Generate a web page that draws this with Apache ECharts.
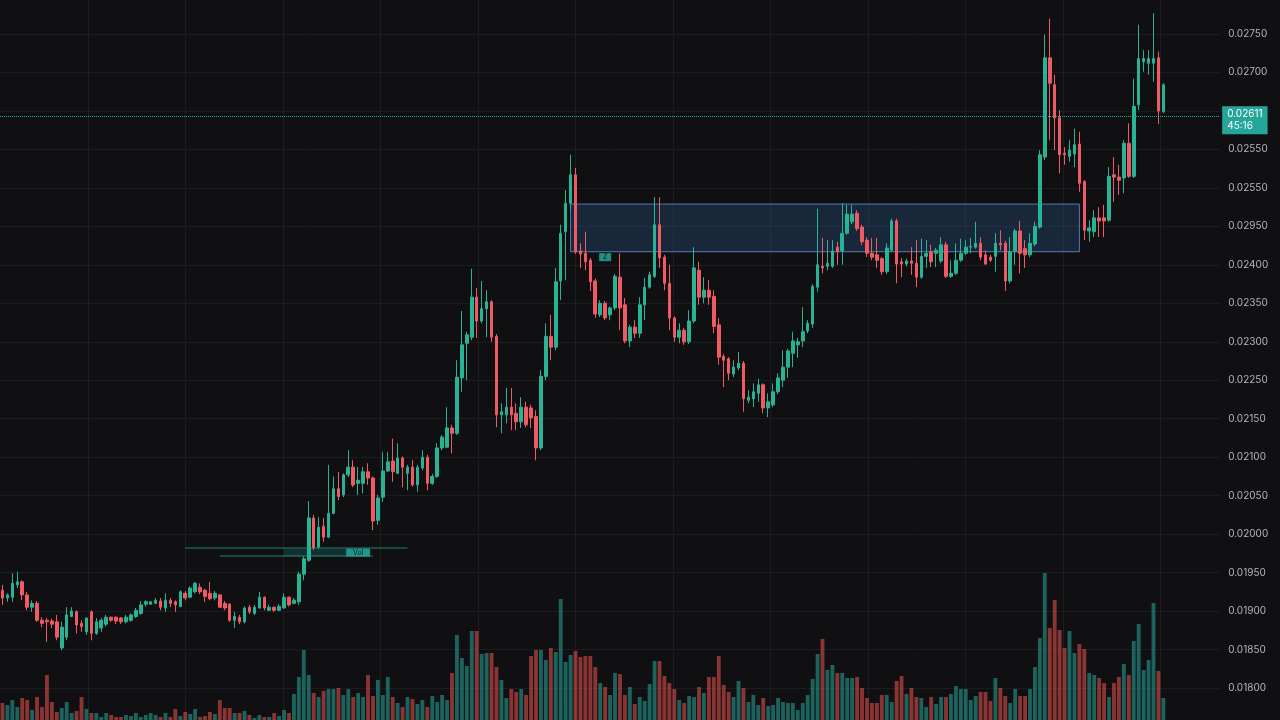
<!DOCTYPE html>
<html><head><meta charset="utf-8">
<script src="https://cdn.jsdelivr.net/npm/echarts/dist/echarts.min.js"></script>
<style>html,body{margin:0;padding:0;background:#101012;}#c{width:1280px;height:720px;}</style>
</head><body><div id="c"></div>
<script>
// prices in units of 0.00001
const opens=[2027,2017,2018,2034,2038,2021,2005,2010,1988,1988,1987,1986,1952,1966,1993,1999,1984,1973,1999,1971,1978,1983,1992,1992,1991,1986,1988,1993,1997,2009,2009,2010,2013,2004,2014,2012,2006,2023,2018,2025,2031,2027,2023,2017,2021,2010,2009,1988,1992,1986,2005,1997,2004,2018,2001,2005,2001,2004,2018,2010,2012,2048,2066,2121,2083,2110,2096,2127,2159,2151,2177,2187,2166,2166,2181,2173,2118,2148,2182,2195,2179,2199,2179,2187,2164,2186,2200,2166,2175,2212,2213,2238,2231,2303,2348,2356,2408,2377,2393,2402,2357,2255,2255,2265,2257,2246,2265,2264,2253,2212,2305,2357,2343,2429,2493,2530,2567,2468,2465,2456,2429,2385,2400,2385,2394,2434,2398,2351,2369,2361,2398,2421,2435,2502,2460,2426,2381,2356,2365,2350,2377,2443,2408,2417,2409,2372,2331,2328,2308,2316,2322,2274,2276,2283,2294,2264,2268,2285,2300,2317,2335,2346,2351,2364,2373,2421,2448,2448,2448,2473,2468,2491,2506,2517,2499,2482,2465,2463,2458,2441,2469,2507,2454,2451,2455,2452,2434,2461,2467,2465,2455,2476,2435,2439,2456,2465,2473,2473,2478,2463,2460,2461,2478,2478,2429,2467,2494,2471,2463,2477,2499,2590,2719,2684,2641,2595,2591,2594,2607,2558,2494,2493,2511,2511,2508,2567,2564,2563,2608,2565,2658,2714,2712,2712,2719,2649];
const closes=[2017,2021,2036,2038,2021,2005,2010,1988,1984,1986,1983,1966,1979,1995,2000,1982,1980,1991,1971,1986,1988,1992,1988,1987,1986,1992,1995,2001,2008,2012,2012,2014,2005,2014,2010,2008,2025,2017,2030,2036,2025,2019,2016,2023,2005,2004,1988,1993,1986,2004,1999,2005,2018,2004,2005,2001,2006,2018,2008,2014,2048,2068,2121,2082,2109,2096,2127,2159,2149,2177,2187,2164,2170,2181,2173,2117,2147,2182,2194,2181,2199,2187,2187,2164,2187,2200,2166,2175,2212,2226,2238,2231,2304,2346,2359,2408,2377,2393,2402,2356,2255,2259,2265,2255,2246,2265,2242,2251,2212,2305,2357,2343,2428,2491,2530,2567,2467,2464,2454,2428,2386,2400,2381,2394,2435,2394,2351,2369,2361,2398,2421,2437,2502,2459,2426,2381,2356,2365,2350,2377,2446,2408,2417,2408,2370,2330,2326,2309,2317,2322,2276,2278,2285,2294,2264,2272,2285,2303,2317,2338,2351,2350,2363,2374,2422,2450,2446,2452,2468,2467,2491,2516,2516,2497,2480,2465,2460,2456,2441,2472,2507,2451,2451,2455,2452,2434,2461,2465,2454,2469,2476,2435,2439,2456,2465,2473,2474,2478,2460,2451,2456,2478,2476,2429,2467,2494,2465,2463,2478,2500,2593,2719,2686,2641,2593,2593,2599,2606,2556,2495,2498,2511,2507,2507,2565,2564,2560,2608,2565,2656,2718,2718,2718,2718,2650,2684];
const lows=[2008,2012,2012,2030,2014,2001,1999,1986,1979,1960,1978,1962,1949,1962,1992,1971,1973,1969,1962,1969,1973,1980,1986,1983,1983,1984,1986,1991,1995,2006,2008,2009,2001,1999,2005,1999,2005,2014,2017,2023,2022,2012,2014,2014,2004,2001,1986,1978,1983,1984,1996,1995,2003,2001,2000,1999,2000,2003,2006,2009,2008,2040,2064,2079,2081,2090,2095,2126,2144,2148,2174,2161,2151,2153,2164,2105,2112,2142,2181,2168,2178,2161,2157,2162,2155,2183,2157,2164,2173,2209,2212,2205,2229,2285,2300,2352,2355,2374,2356,2350,2239,2231,2244,2235,2235,2238,2239,2238,2196,2209,2300,2326,2339,2404,2430,2521,2464,2446,2443,2416,2381,2382,2378,2378,2391,2365,2348,2343,2355,2355,2378,2419,2433,2446,2417,2365,2350,2348,2346,2347,2374,2398,2400,2398,2361,2320,2291,2300,2304,2313,2259,2270,2265,2272,2257,2252,2265,2282,2291,2303,2317,2329,2343,2361,2368,2415,2439,2443,2446,2450,2450,2489,2503,2494,2476,2460,2456,2446,2437,2438,2467,2426,2434,2448,2437,2421,2432,2446,2447,2447,2452,2433,2433,2437,2454,2463,2465,2471,2456,2450,2454,2441,2469,2416,2426,2450,2439,2446,2460,2474,2497,2586,2612,2599,2569,2580,2584,2577,2545,2482,2480,2486,2486,2486,2506,2532,2541,2543,2563,2563,2651,2701,2697,2688,2633,2647];
const highs=[2034,2023,2049,2051,2040,2025,2014,2013,1992,1991,1990,1995,1986,2005,2005,2001,1988,1992,2001,1991,1991,1995,1993,1993,1992,1995,1997,2004,2013,2014,2013,2017,2017,2023,2017,2014,2027,2026,2032,2038,2036,2029,2038,2026,2022,2013,2010,1999,1995,2006,2008,2008,2025,2019,2008,2006,2009,2023,2019,2017,2051,2071,2143,2125,2122,2121,2190,2175,2181,2179,2209,2196,2187,2187,2192,2175,2151,2207,2207,2224,2218,2201,2190,2196,2190,2209,2203,2178,2218,2229,2265,2242,2326,2390,2363,2445,2420,2429,2417,2404,2360,2270,2290,2290,2270,2278,2272,2268,2261,2313,2374,2385,2446,2502,2547,2593,2576,2478,2493,2459,2432,2404,2403,2396,2438,2465,2407,2372,2378,2408,2433,2441,2538,2538,2463,2450,2383,2374,2368,2391,2473,2454,2434,2430,2417,2381,2334,2330,2326,2337,2325,2287,2296,2302,2296,2283,2296,2309,2339,2341,2363,2355,2395,2378,2425,2523,2485,2482,2482,2480,2530,2528,2528,2521,2502,2486,2485,2485,2460,2478,2510,2510,2459,2458,2473,2482,2484,2482,2476,2472,2486,2480,2456,2478,2484,2482,2485,2506,2486,2469,2463,2491,2495,2481,2486,2497,2507,2482,2491,2506,2599,2749,2770,2697,2651,2603,2612,2627,2623,2560,2508,2521,2525,2528,2577,2590,2580,2612,2634,2692,2762,2729,2729,2777,2727,2686];
const volumes=[17,15,20,13,22,20,10,23,13,45,18,8,12,18,7,9,23,11,7,7,3,7,5,3,3,5,4,7,3,5,7,5,3,7,3,11,4,8,6,11,3,4,8,6,20,12,12,7,7,9,5,2,5,3,3,7,4,10,7,26,43,70,45,27,23,29,31,31,32,25,31,23,27,23,45,24,40,25,43,23,17,13,23,21,16,20,13,24,18,25,20,47,85,62,54,89,89,66,67,67,53,40,22,31,28,31,25,64,70,70,60,72,68,121,58,65,69,63,64,64,53,37,33,25,47,46,25,33,16,23,19,36,59,59,44,37,31,20,17,24,23,33,27,43,43,64,35,28,23,39,32,18,25,15,22,14,15,22,18,17,17,10,17,25,41,66,81,50,55,47,47,42,42,43,32,22,17,17,25,25,18,39,44,26,32,23,22,13,23,16,23,23,26,34,31,31,20,24,28,28,19,42,32,24,17,31,24,24,31,53,82,147,92,120,90,72,89,67,76,71,47,45,42,37,23,37,43,56,45,79,96,50,60,117,49,22];
const yTickLabels=['0.01800','0.01850','0.01900','0.01950','0.02000','0.02050','0.02100','0.02150','0.02250','0.02300','0.02350','0.02400','0.02950','0.02550','0.02550','','0.02700','0.02750'];
const lastPriceLabel='0.02611', countdownLabel='45:16';
const lastPriceLevel=2643;
const zone={start:115,end:218,top:2529,bottom:2467};
const band={start:57,end:74,top:2081,bottom:2071};
const glowLines=[[37,82,2082],[44,75,2072]];
const tags=[{at:72,price:2076,text:'Vol'},{at:122,price:2460,text:'Z'}];
const slotCount=247;

const UP='#27b394', DOWN='#f05a64';
const slots=Array.from({length:slotCount},(_,i)=>String(i));
const candles=opens.map((o,i)=>[o,closes[i],lows[i],highs[i]]);
const vols=volumes.map((v,i)=>({value:v,itemStyle:{color:closes[i]>=opens[i]?'rgba(38,166,154,0.55)':'rgba(239,83,80,0.55)'}}));
const gridColor='#1c1d21';
const chart=echarts.init(document.getElementById('c'),null,{renderer:'canvas'});
chart.setOption({
  backgroundColor:'#101012',
  animation:false,
  grid:[
    {left:0,right:59.82,top:34,bottom:32},
    {left:0,right:59.82,top:560,bottom:0},
    {left:88,right:119.5,top:0,bottom:0}
  ],
  xAxis:[
    {type:'category',data:slots,gridIndex:0,boundaryGap:true,axisLine:{show:false},axisTick:{show:false},axisLabel:{show:false},splitLine:{show:false}},
    {type:'category',data:slots,gridIndex:1,boundaryGap:true,axisLine:{show:false},axisTick:{show:false},axisLabel:{show:false},splitLine:{show:false}},
    {type:'value',gridIndex:2,min:0,max:11,interval:1,axisLine:{show:false},axisTick:{show:false},axisLabel:{show:false},splitLine:{show:true,lineStyle:{color:gridColor,width:1}}}
  ],
  yAxis:[
    {type:'value',gridIndex:0,position:'right',min:1900,max:2750,interval:50,scale:true,
     axisLine:{show:false},axisTick:{show:false},
     axisLabel:{color:'#b2b5be',fontSize:10,margin:8,fontFamily:'Inter, Roboto, sans-serif',
       formatter:v=>{const k=Math.round((v-1900)/50);return yTickLabels[k]||'';}},
     splitLine:{show:true,lineStyle:{color:gridColor,width:1}}},
    {type:'value',gridIndex:1,min:0,max:160,show:false,splitLine:{show:false}},
    {type:'value',gridIndex:2,min:0,max:1,show:false,splitLine:{show:false}}
  ],
  series:[
    {type:'bar',xAxisIndex:1,yAxisIndex:1,data:vols,barWidth:'78%',z:1,silent:true},
    {type:'candlestick',xAxisIndex:0,yAxisIndex:0,data:candles,barWidth:'62%',clip:false,z:3,
     itemStyle:{color:UP,color0:DOWN,borderColor:UP,borderColor0:DOWN,borderWidth:1},
     markArea:{silent:true,data:[
       [{xAxis:zone.start,yAxis:zone.top,itemStyle:{color:'rgba(46,88,140,0.33)',borderColor:'rgba(96,140,200,0.85)',borderWidth:1}},{xAxis:zone.end,yAxis:zone.bottom}],
       [{xAxis:band.start,yAxis:band.top,itemStyle:{color:'rgba(38,166,154,0.22)',borderWidth:0}},{xAxis:band.end,yAxis:band.bottom}]
     ]},
     markLine:{silent:true,symbol:['none','none'],animation:false,data:[
       {yAxis:lastPriceLevel,lineStyle:{color:'#26a69a',type:'dotted',width:1},
        label:{show:true,position:'end',distance:2,formatter:()=>lastPriceLabel+'\n'+countdownLabel,
          backgroundColor:'#26a69a',color:'#ffffff',fontSize:10,lineHeight:12,padding:[2,5,2,5],fontFamily:'Inter, Roboto, sans-serif',offset:[0,4]}},
       ...glowLines.map(g=>[{coord:[g[0],g[2]],lineStyle:{color:'rgba(38,166,154,0.5)',type:'solid',width:1.5},label:{show:false}},{coord:[g[1],g[2]]}])
     ]},
     markPoint:{silent:true,data:tags.map(t=>({coord:[t.at,t.price],symbol:'rect',symbolSize:[t.text.length*6+6,8],
        itemStyle:{color:'rgba(38,166,154,0.85)'},label:{show:true,formatter:t.text,fontSize:7,color:'#0b1a18',fontFamily:'Inter, sans-serif'}}))}
    }
  ]
});
</script></body></html>
